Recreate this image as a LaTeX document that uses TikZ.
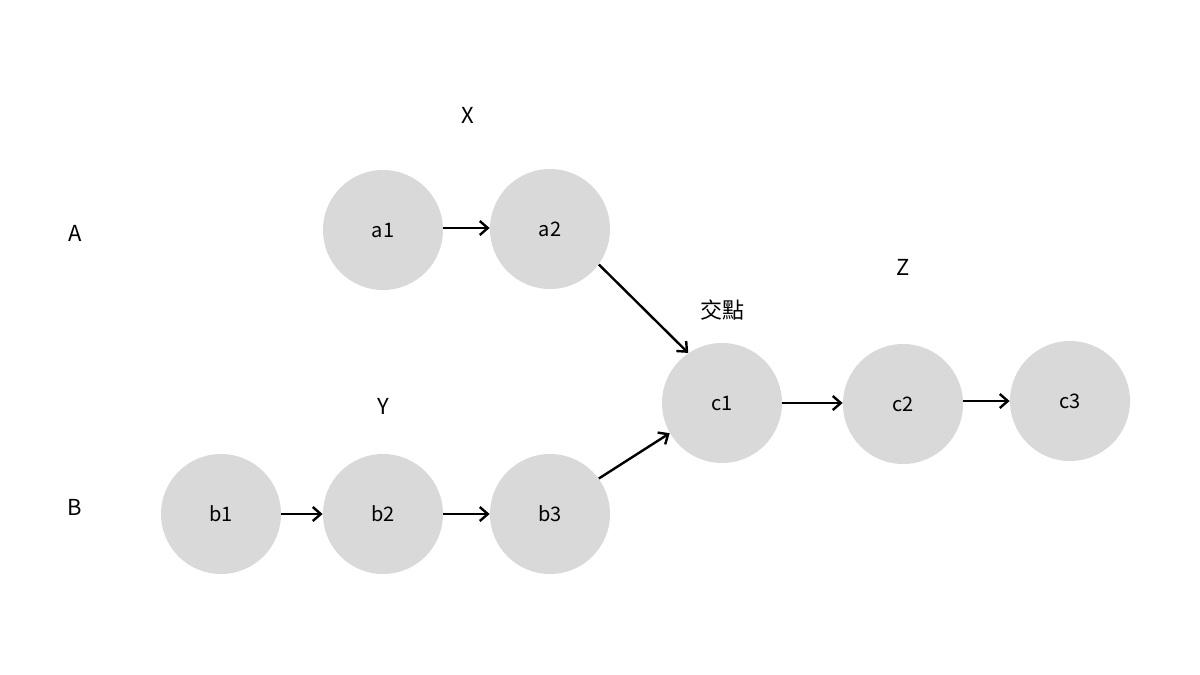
\documentclass[tikz,border=0pt]{standalone}
\usepackage{fontspec}
\setmainfont{Noto Sans CJK TC}
\usetikzlibrary{arrows.meta}
\begin{document}
\begin{tikzpicture}[x=0.5pt,y=-0.5pt,
  circ/.style={circle,fill=black!15,draw=none,minimum size=60pt,inner sep=0pt,font=\fontsize{10}{12}\selectfont},
  lbl/.style={font=\fontsize{11}{13}\selectfont,inner sep=0pt},
  arr/.style={-{Straight Barb[length=4pt,width=7pt,line width=1.2pt]},line width=1.2pt,black}]
\useasboundingbox (0,0) rectangle (1200,675);
\fill[white] (0,0) rectangle (1200,675);
\node[circ] (a1) at (383,230) {a1};
\node[circ] (a2) at (550,229) {a2};
\node[circ] (b1) at (221,514) {b1};
\node[circ] (b2) at (383,514) {b2};
\node[circ] (b3) at (550,514) {b3};
\node[circ] (c1) at (722,403) {c1};
\node[circ] (c2) at (903,404) {c2};
\node[circ] (c3) at (1070,401) {c3};
\node[lbl] (X) at (468,115) {X};
\node[lbl] (A) at (75,233) {A};
\node[lbl] (Y) at (383,406) {Y};
\node[lbl] (B) at (75,507) {B};
\node[lbl] (Z) at (903,267) {Z};
\node[lbl] (J) at (722,310) {交點};
\draw[arr] ([yshift=1pt]a1.east) -- ([yshift=1pt]a1.east -| a2.west);
\draw[arr] (b1.east) -- (b2.west);
\draw[arr] (b2.east) -- (b3.west);
\draw[arr] (a2.-36) -- (c1.124);
\draw[arr] (b3.36) -- (c1.210);
\draw[arr] (c1.east) -- (c1.east -| c2.west);
\draw[arr] (c3.west -| c2.east) -- (c3.west);
\end{tikzpicture}
\end{document}
